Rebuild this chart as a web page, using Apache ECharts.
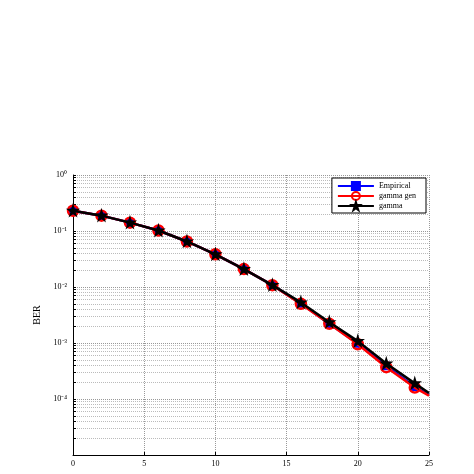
<!DOCTYPE html>
<html><head><meta charset="utf-8">
<script src="https://cdn.jsdelivr.net/npm/echarts@6/dist/echarts.min.js"></script>
<style>html,body{margin:0;background:#fff}#c{width:474px;height:474px}</style>
</head><body><div id="c"></div>
<script>
// SNR points
const snr = [0, 2, 4, 6, 8, 10, 12, 14, 16, 18, 20, 22, 24, 25];
const empirical = [0.23, 0.188, 0.141, 0.102, 0.065, 0.0384, 0.0209, 0.0108, 0.0051, 0.0022, 0.00098, 0.00039, 0.000165, 0.000118];
const gammaGen = [0.23, 0.188, 0.141, 0.102, 0.065, 0.0384, 0.0209, 0.0108, 0.0050, 0.0022, 0.00095, 0.00037, 0.00016, 0.000115];
const gammaTheory = [0.23, 0.188, 0.141, 0.102, 0.065, 0.0384, 0.0209, 0.0108, 0.0053, 0.00235, 0.00108, 0.00043, 0.00019, 0.000128];
const tickLabels = {1: '10⁰', 0.1: '10⁻¹', 0.01: '10⁻²', 0.001: '10⁻³', 0.0001: '10⁻⁴'};

const chart = echarts.init(document.getElementById('c'));
const font = 'Liberation Serif';
const star = 'path://M50,0 L61,35 L98,35 L68,57 L79,91 L50,70 L21,91 L32,57 L2,35 L39,35 Z';

function mk(name, vals, color, symbol, size, width, z, fill) {
    return {
        name: name, type: 'line', z: z,
        data: snr.map((x, i) => ({value: [x, vals[i]], symbol: x % 2 ? 'none' : symbol})),
        symbol: symbol, symbolSize: size,
        lineStyle: {color: color, width: width},
        itemStyle: {color: fill, borderColor: color, borderWidth: 2.5}
    };
}

chart.setOption({
    animation: false,
    grid: {left: 73, right: 45, top: 175, bottom: 19, outerBoundsMode: 'none'},
    legend: {
        right: 48, top: 178, orient: 'vertical', itemGap: 0, itemWidth: 36, itemHeight: 10,
        backgroundColor: '#fff', borderColor: '#000', borderWidth: 1, padding: [3, 10, 2, 5],
        textStyle: {fontFamily: font, fontSize: 8, color: '#000'},
        data: ['Empirical', 'gamma gen', 'gamma']
    },
    xAxis: {
        type: 'value', min: 0, max: 25, interval: 5,
        name: 'SNR', nameLocation: 'middle', nameGap: 12,
        nameTextStyle: {fontFamily: font, fontSize: 10, color: '#000'},
        axisLine: {lineStyle: {color: '#000'}},
        axisTick: {inside: true, length: 3},
        axisLabel: {fontFamily: font, fontSize: 8, color: '#000', margin: 5},
        splitLine: {show: true, lineStyle: {type: 'dotted', color: '#999'}}
    },
    yAxis: {
        type: 'log', min: 1e-5, max: 1, logBase: 10,
        name: 'BER', nameLocation: 'middle', nameGap: 25,
        nameTextStyle: {fontFamily: font, fontSize: 10, color: '#000'},
        axisLine: {lineStyle: {color: '#000'}},
        axisTick: {inside: true, length: 3},
        axisLabel: {fontFamily: font, fontSize: 8, color: '#000', margin: 6,
            formatter: v => { for (const k in tickLabels) if (Math.abs(Math.log10(v) - Math.log10(+k)) < 1e-6) return tickLabels[k]; return ''; }},
        splitLine: {show: true, lineStyle: {type: 'dotted', color: '#999'}},
        minorTick: {show: true, splitNumber: 9},
        minorSplitLine: {show: true, lineStyle: {type: 'dotted', color: '#bbb'}}
    },
    series: [
        mk('Empirical', empirical, '#0000ff', 'rect', 6, 2.5, 2, '#0000ff'),
        mk('gamma gen', gammaGen, '#ff0000', 'circle', 10, 2.5, 3, 'rgba(255,255,255,0)'),
        mk('gamma', gammaTheory, '#000000', star, 7, 2.5, 4, '#000')
    ]
});
</script></body></html>
